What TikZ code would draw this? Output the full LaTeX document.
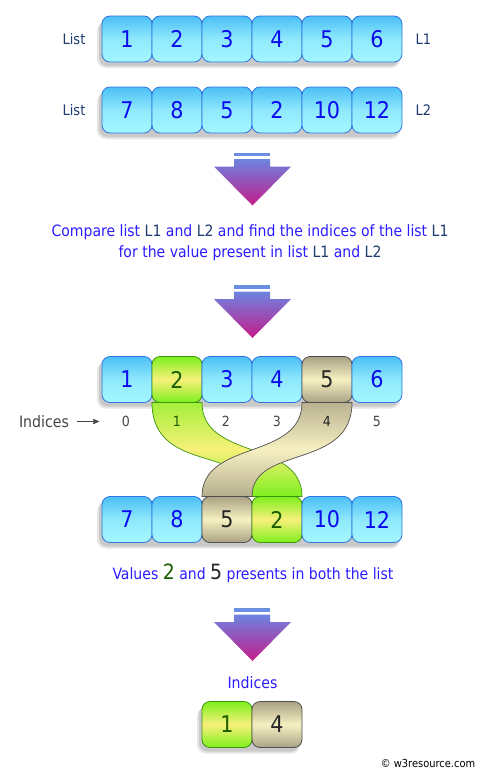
\documentclass[tikz,border=0pt]{standalone}
\usepackage{fontspec}
\setmainfont{DejaVu Sans Condensed}
\usepackage{xcolor}
\usepackage{tikz}
\usetikzlibrary{positioning}
\usetikzlibrary{arrows}
\usetikzlibrary{backgrounds}

\definecolor{cellblue}{HTML}{2F74E0}
\definecolor{celltop}{HTML}{4CBFF5}
\definecolor{cellmid}{HTML}{8FE9FD}
\definecolor{cellbot}{HTML}{A5F7FF}
\definecolor{numblue}{HTML}{0A0AEE}
\definecolor{greenedge}{HTML}{3C9410}
\definecolor{greentop}{HTML}{7EF01E}
\definecolor{greenmid}{HTML}{F8F07A}
\definecolor{greennum}{HTML}{1C5E00}
\definecolor{tanedge}{HTML}{505050}
\definecolor{tantop}{HTML}{AAA284}
\definecolor{tanmid}{HTML}{F6F0C2}
\definecolor{tannum}{HTML}{262626}
\definecolor{listnavy}{HTML}{1E3A6E}
\definecolor{textblue}{HTML}{2B1BFF}
\definecolor{idxgray}{HTML}{444444}
\definecolor{barblue}{HTML}{6A8EE0}
\definecolor{arrowtop}{HTML}{6C84E0}
\definecolor{arrowbot}{HTML}{C41C8A}

\tikzset{
	cell/.style={draw=cellblue,rounded corners=8pt,minimum width=50pt,minimum height=46pt,
		inner sep=0pt,outer sep=0pt,line width=0.8pt,top color=celltop,bottom color=cellbot,
		middle color=cellmid,text=numblue,font=\fontsize{23}{23}\selectfont},
	greencell/.style={cell,draw=greenedge,top color=greentop,bottom color=greentop,
		middle color=greenmid,text=greennum},
	tancell/.style={cell,draw=tanedge,top color=tantop,bottom color=tantop,
		middle color=tanmid,text=tannum},
	listlabel/.style={text=listnavy,font=\fontsize{14.5}{16}\selectfont},
	infotext/.style={text=textblue,align=center,font=\fontsize{15.6}{21}\selectfont},
	idxnum/.style={text=idxgray,font=\fontsize{14}{16}\selectfont}
}
\newcommand{\lname}[1]{\textcolor{listnavy}{#1}}
\newcommand{\flowarrow}[1]{%
	\fill[barblue] (234,#1) rectangle (270,#1+3.5);
	\shade[top color=arrowtop,bottom color=arrowbot] (234,#1+6.5) -- (270,#1+6.5) -- (270,#1+14)
		-- (291,#1+14) -- (252.5,#1+53) -- (214,#1+14) -- (234,#1+14) -- cycle;
}
\newcommand{\rowshadow}[2]{%
	\begin{scope}[on background layer]
		\fill[black,opacity=0.10,rounded corners=9pt] ([xshift=-5pt,yshift=-6pt]#1.north west) rectangle ([xshift=-2pt,yshift=-6pt]#2.south east);
		\fill[black,opacity=0.12,rounded corners=8pt] ([xshift=-3pt,yshift=-4pt]#1.north west) rectangle ([xshift=-3pt,yshift=-4pt]#2.south east);
	\end{scope}
}

\begin{document}
\begin{tikzpicture}[x=1pt,y=-1pt]
	\useasboundingbox (0,0) rectangle (486,779);

	% list L1 and L2
	\node [listlabel] (lbla) at (74,39) {List};
	\node [cell] (a1) at (127,39) {1};
	\node [cell,right=0pt of a1] (a2) {2};
	\node [cell,right=0pt of a2] (a3) {3};
	\node [cell,right=0pt of a3] (a4) {4};
	\node [cell,right=0pt of a4] (a5) {5};
	\node [cell,right=0pt of a5] (a6) {6};
	\node [listlabel] (namea) at (423.5,39) {L1};
	\rowshadow{a1}{a6}

	\node [listlabel] (lblb) at (74,110) {List};
	\node [cell] (b1) at (127,110) {7};
	\node [cell,right=0pt of b1] (b2) {8};
	\node [cell,right=0pt of b2] (b3) {5};
	\node [cell,right=0pt of b3] (b4) {2};
	\node [cell,right=0pt of b4] (b5) {10};
	\node [cell,right=0pt of b5] (b6) {12};
	\node [listlabel] (nameb) at (423.5,110) {L2};
	\rowshadow{b1}{b6}

	\flowarrow{152.5}
	\node [infotext] (task) at (250,242.5) {Compare list \lname{L1} and \lname{L2} and find the indices of the list \lname{L1}\\
		for the value present in list \lname{L1} and \lname{L2}};
	\flowarrow{285}

	% matching values
	\node [cell] (x1) at (127,379.5) {1};
	\node [greencell,right=0pt of x1] (x2) {2};
	\node [cell,right=0pt of x2] (x3) {3};
	\node [cell,right=0pt of x3] (x4) {4};
	\node [tancell,right=0pt of x4] (x5) {5};
	\node [cell,right=0pt of x5] (x6) {6};
	\rowshadow{x1}{x6}

	\node [cell] (y1) at (127,519.5) {7};
	\node [cell,right=0pt of y1] (y2) {8};
	\node [tancell,right=0pt of y2] (y3) {5};
	\node [greencell,right=0pt of y3] (y4) {2};
	\node [cell,right=0pt of y4] (y5) {10};
	\node [cell,right=0pt of y5] (y6) {12};
	\rowshadow{y1}{y6}

	\shade [draw=greenedge,line width=0.7pt,top color=greentop!70!greenmid,bottom color=greentop,middle color=greenmid]
		(x2.south west) .. controls +(0,73) and +(0,-52) .. (y4.north west) -- (y4.north east)
		.. controls +(0,-57) and +(0,58) .. (x2.south east) -- cycle;
	\shade [draw=tanedge,line width=0.7pt,top color=tantop!80!tanmid,bottom color=tantop!85!tanmid,middle color=tanmid]
		(x5.south west) .. controls +(0,58) and +(0,-57) .. (y3.north west) -- (y3.north east)
		.. controls +(0,-52) and +(0,68) .. (x5.south east) -- cycle;

	\node [text=idxgray,font=\fontsize{15.7}{17}\selectfont] (idxlbl) at (44,421.5) {Indices};
	\coordinate (idxtip) at (99,421.5);
	\draw [->,>=stealth',line width=1.1pt,idxgray,shorten <=5pt] (idxlbl.east) -- (idxtip);
	\node [idxnum] (k0) at (126,421.5) {0};
	\node [idxnum,text=greennum] (k1) at (177,421.5) {1};
	\node [idxnum] (k2) at (226,421.5) {2};
	\node [idxnum] (k3) at (277,421.5) {3};
	\node [idxnum,text=tannum] (k4) at (327,421.5) {4};
	\node [idxnum] (k5) at (377,421.5) {5};

	\node [infotext] (found) at (253,573) {Values {\fontsize{21}{21}\selectfont\textcolor{greennum}{2}} and
		{\fontsize{21}{21}\selectfont\textcolor{tannum}{5}} presents in both the list};
	\flowarrow{608}

	% result
	\node [infotext,font=\fontsize{15.7}{17}\selectfont] (reslbl) at (252.5,683) {Indices};
	\node [greencell] (r1) at (227,724.5) {1};
	\node [tancell,right=0pt of r1] (r2) {4};
	\rowshadow{r1}{r2}

	\node [font=\fontsize{11}{12}\selectfont] (credit) at (428,763) {\textcopyright{} w3resource.com};
\end{tikzpicture}
\end{document}
